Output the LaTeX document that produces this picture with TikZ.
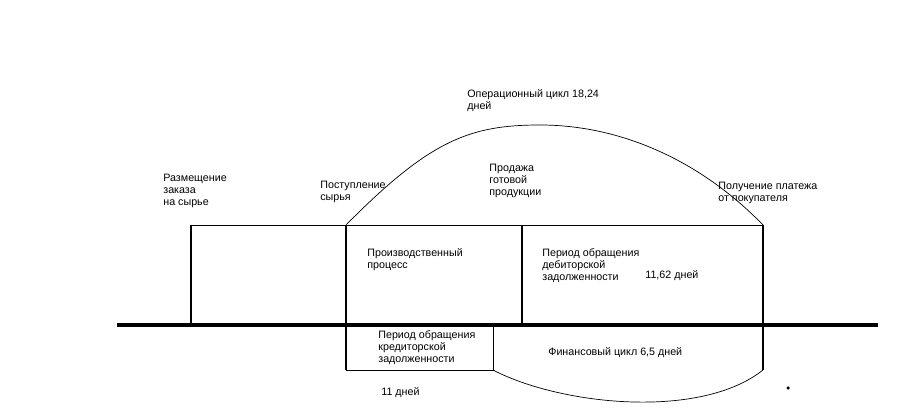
\documentclass[tikz,border=0pt]{standalone}
\usepackage{fontspec}
\setmainfont{Liberation Sans}
\tikzstyle{lbl} = [anchor=north west, align=left, inner sep=0pt, font=\fontsize{6.1}{6.9}\selectfont]
\tikzstyle{axis} = [line width=2pt]
\tikzstyle{bar} = [line width=1pt]
\begin{document}
\begin{tikzpicture}[x=0.02cm,y=-0.02cm]
\useasboundingbox (0,0) rectangle (913,418);

% points on the time line
\coordinate (order) at (191,325);
\coordinate (supply) at (346,325);
\coordinate (sale) at (522,325);
\coordinate (pay) at (763,325);
\coordinate (credit) at (493,325);
\coordinate (peak) at (540,125);

% axis
\draw [axis] (117,325) -- (878,325);

% vertical bars
\draw [bar] (order) -- ++(0,-100) coordinate (ordertop);
\draw [bar] (supply) -- ++(0,-100) coordinate (supplytop);
\draw [bar] (sale) -- ++(0,-100);
\draw [bar] (pay) -- ++(0,-100) coordinate (paytop);
\draw [bar] (supply) -- ++(0,45) coordinate (supplybot);
\draw [bar] (pay) -- ++(0,45) coordinate (paybot);
\draw [thin] (ordertop) -- (paytop);
\draw [thin] (credit) -- ++(0,45) coordinate (creditbot) -- (supplybot);

% cycles
\draw [thin] (supplytop) .. controls (430,140) and (470,125) .. (peak)
  .. controls (620,125) and (700,160) .. (paytop);
\draw [thin] (creditbot) .. controls (560,405) and (700,420) .. (paybot);
\fill (788,388) circle (1pt);

% labels
\node (ordertxt)[lbl] at (163,174) {Размещение\\заказа\\на сырье};
\node (supplytxt)[lbl] at (320,181) {Поступление\\сырья};
\node (opcycle)[lbl] at (467,89) {Операционный цикл 18,24\\дней};
\node (saletxt)[lbl] at (489,164) {Продажа\\готовой\\продукции};
\node (paytxt)[lbl] at (718,182) {Получение платежа\\от покупателя};
\node (prod)[lbl] at (367,248) {Производственный\\процесс};
\node (debt)[lbl] at (542,248) {Период обращения\\дебиторской\\задолженности};
\node (debtdays)[lbl] at (645,270) {11,62 дней};
\node (cred)[lbl] at (378,330) {Период обращения\\кредиторской\\задолженности};
\node (fin)[lbl] at (548,347) {Финансовый цикл 6,5 дней};
\node (creddays)[lbl] at (381,387) {11 дней};
\end{tikzpicture}
\end{document}
